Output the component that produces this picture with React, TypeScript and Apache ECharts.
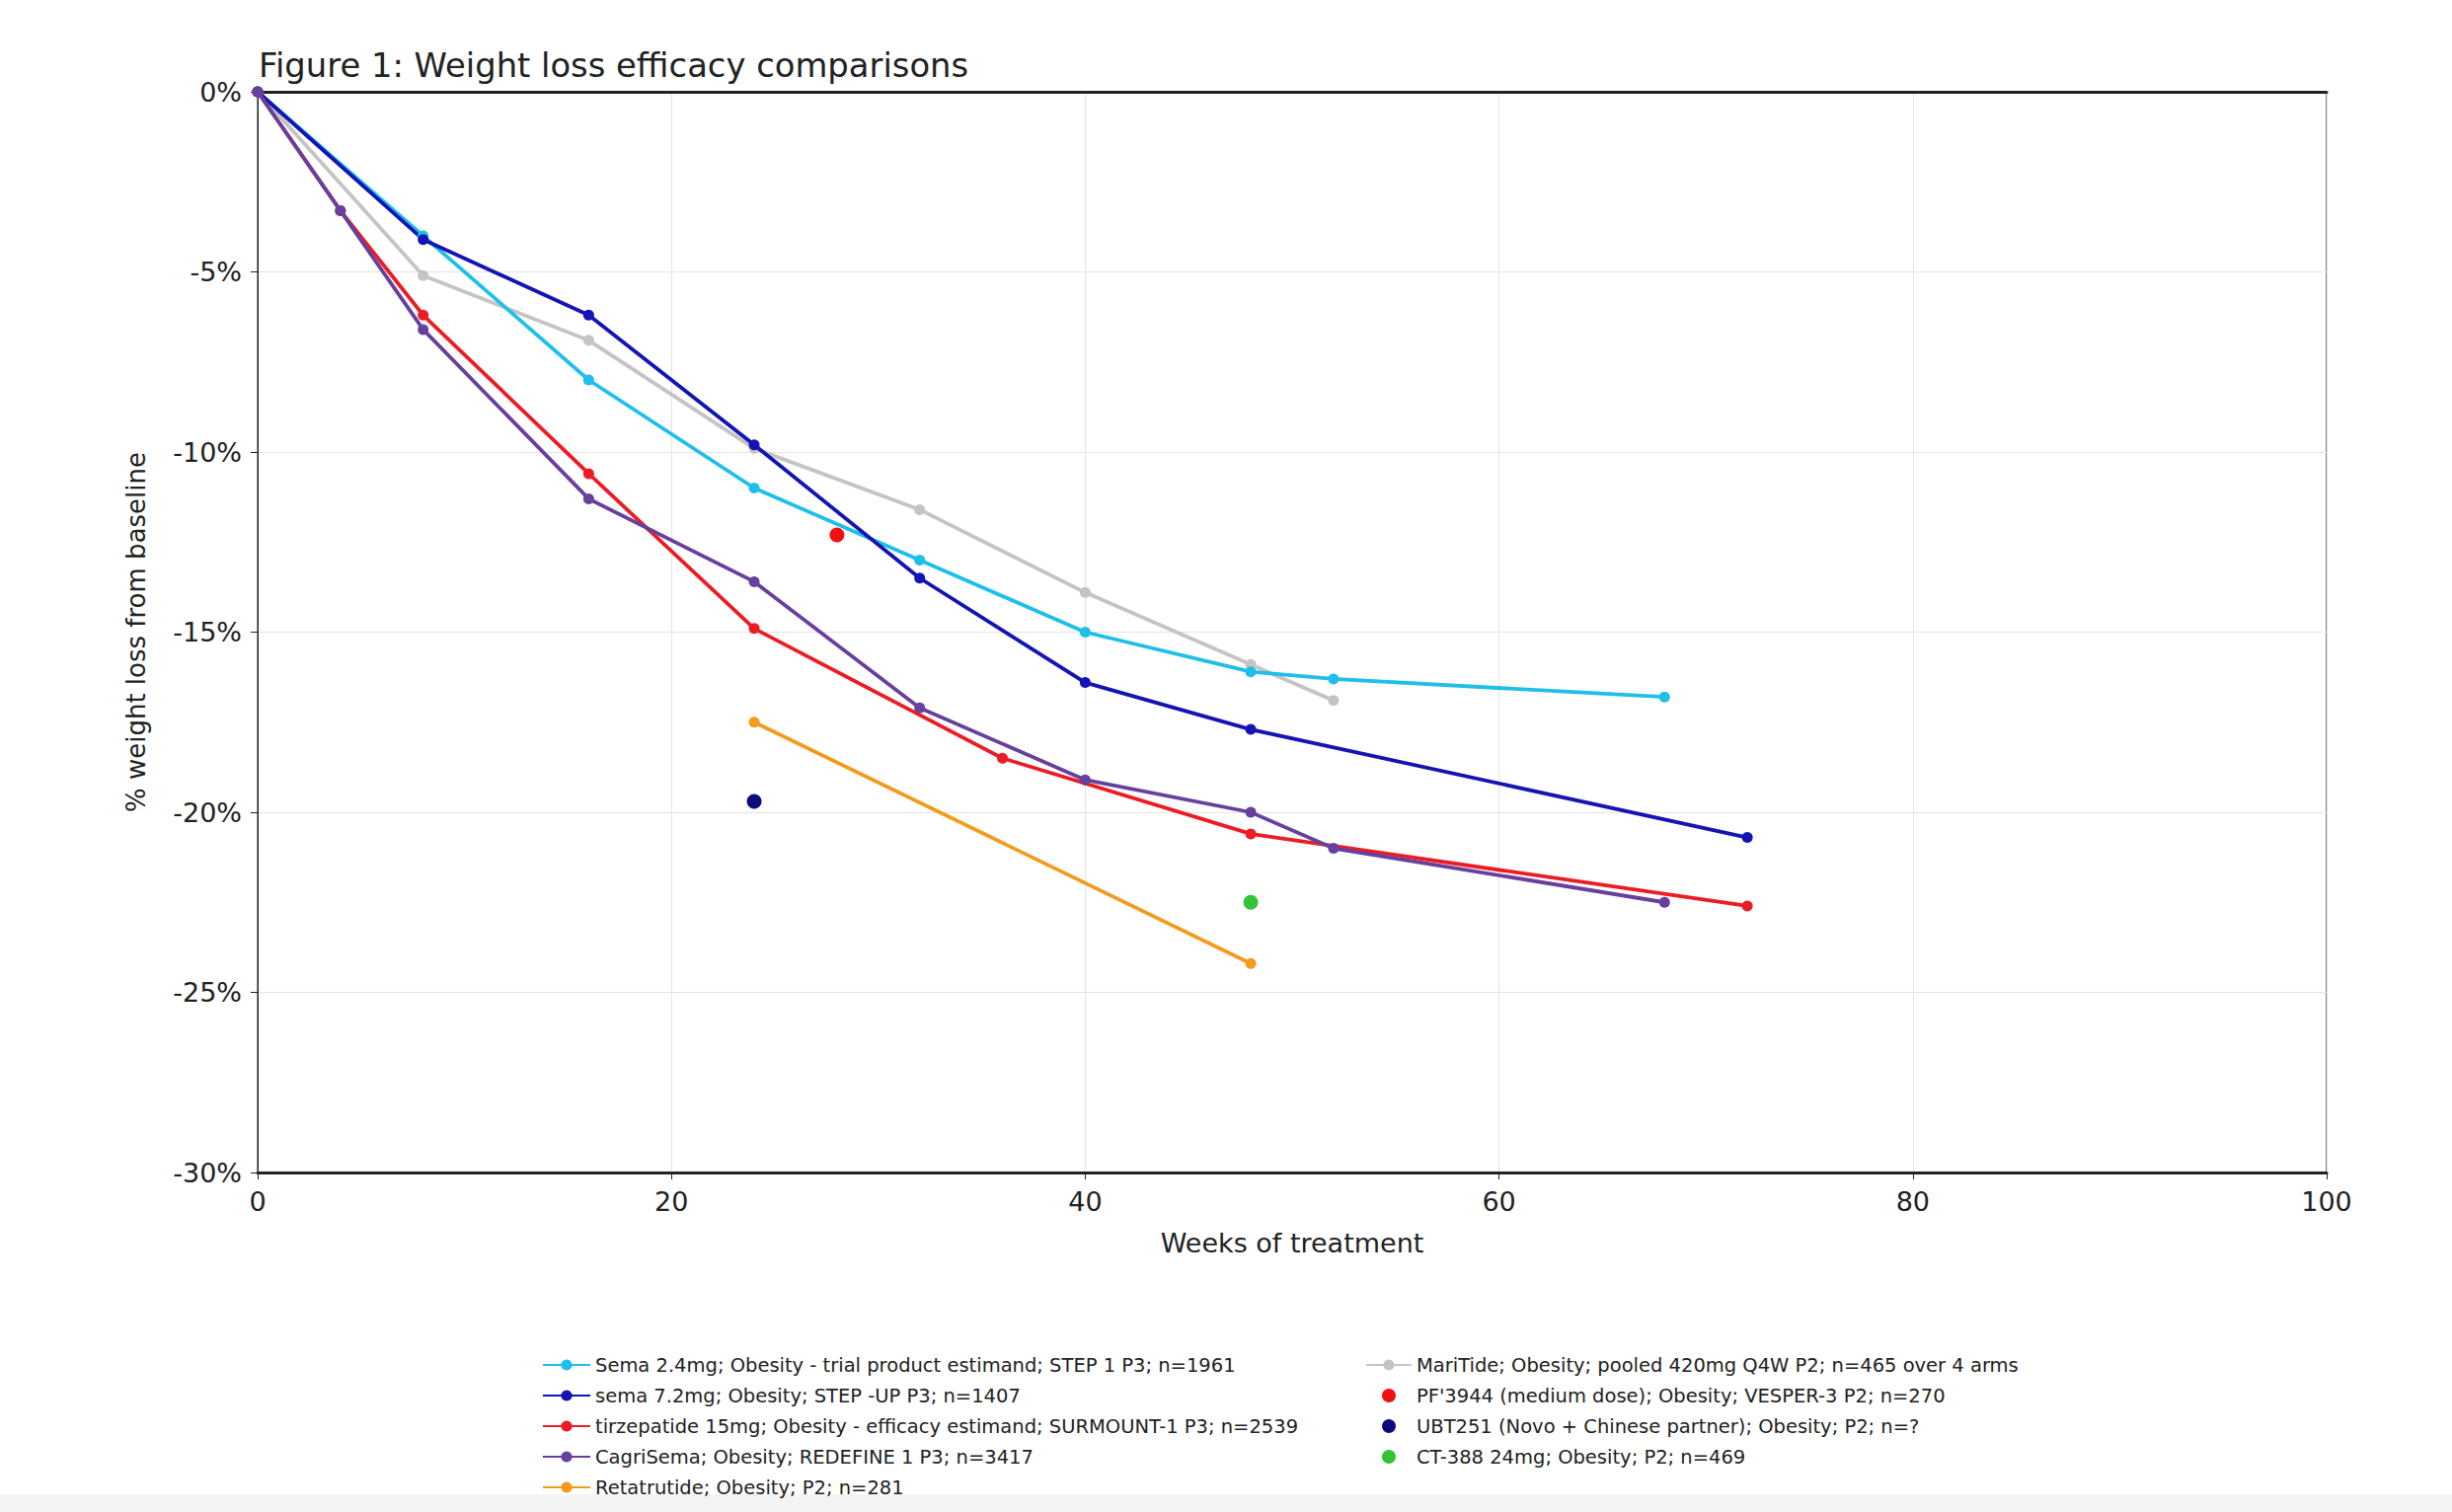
import React, { useEffect, useRef } from "react";
import * as echarts from "echarts";

const titleText = "Figure 1: Weight loss efficacy comparisons";
const xAxisName = "Weeks of treatment";
const yAxisName = "% weight loss from baseline";

const sema24Name = "Sema 2.4mg; Obesity - trial product estimand; STEP 1 P3; n=1961";
const sema24Weeks = [0, 8, 16, 24, 32, 40, 48, 52, 68];
const sema24Loss = [0, -4.0, -8.0, -11.0, -13.0, -15.0, -16.1, -16.3, -16.8];

const sema72Name = "sema 7.2mg; Obesity; STEP -UP P3; n=1407";
const sema72Weeks = [0, 8, 16, 24, 32, 40, 48, 72];
const sema72Loss = [0, -4.1, -6.2, -9.8, -13.5, -16.4, -17.7, -20.7];

const tirzName = "tirzepatide 15mg; Obesity - efficacy estimand; SURMOUNT-1 P3; n=2539";
const tirzWeeks = [0, 4, 8, 16, 24, 36, 48, 72];
const tirzLoss = [0, -3.3, -6.2, -10.6, -14.9, -18.5, -20.6, -22.6];

const cagriName = "CagriSema; Obesity; REDEFINE 1 P3; n=3417";
const cagriWeeks = [0, 4, 8, 16, 24, 32, 40, 48, 52, 68];
const cagriLoss = [0, -3.3, -6.6, -11.3, -13.6, -17.1, -19.1, -20.0, -21.0, -22.5];

const retaName = "Retatrutide; Obesity; P2; n=281";
const retaWeeks = [24, 48];
const retaLoss = [-17.5, -24.2];

const mariName = "MariTide; Obesity; pooled 420mg Q4W P2; n=465 over 4 arms";
const mariWeeks = [0, 8, 16, 24, 32, 40, 48, 52];
const mariLoss = [0, -5.1, -6.9, -9.9, -11.6, -13.9, -15.9, -16.9];

const pfName = "PF'3944 (medium dose); Obesity; VESPER-3 P2; n=270";
const pfWeeks = [28];
const pfLoss = [-12.3];

const ubtName = "UBT251 (Novo + Chinese partner); Obesity; P2; n=?";
const ubtWeeks = [24];
const ubtLoss = [-19.7];

const ctName = "CT-388 24mg; Obesity; P2; n=469";
const ctWeeks = [48];
const ctLoss = [-22.5];

const pairs = (w: number[], v: number[]) => w.map((x, i) => [x, v[i]]);

const FONT = "'DejaVu Sans', sans-serif";

export default function App() {
  const ref = useRef<HTMLDivElement>(null);
  useEffect(() => {
    if (!ref.current) return;
    const chart = echarts.init(ref.current, undefined, { renderer: "svg" });

    const lineSeries = (name: string, w: number[], v: number[], color: string, z: number) => ({
      name,
      type: "line",
      data: pairs(w, v),
      z,
      symbol: "circle",
      symbolSize: 11,
      showSymbol: true,
      lineStyle: { color, width: 3.8 },
      itemStyle: { color },
    });
    const dotSeries = (name: string, w: number[], v: number[], color: string) => ({
      name,
      type: "scatter",
      data: pairs(w, v),
      symbol: "circle",
      symbolSize: 15,
      itemStyle: { color, opacity: 1 },
      z: 5,
    });

    const legendText = { fontFamily: FONT, fontSize: 19.5, color: "#222", lineHeight: 20 };

    chart.setOption({
      animation: false,
      backgroundColor: "#ffffff",
      textStyle: { fontFamily: FONT },
      title: {
        text: titleText,
        left: 257,
        top: 44,
        textStyle: { fontFamily: FONT, fontSize: 33.8, fontWeight: "normal", color: "#222" },
      },
      grid: {
        left: 261,
        right: 127,
        top: 93,
        bottom: 344,
        show: true,
        borderColor: "#111",
        borderWidth: 1,
        containLabel: false,
      },
      legend: [
        {
          orient: "vertical",
          left: 544,
          top: 1368,
          height: 170,
          itemWidth: 48,
          itemHeight: 14,
          itemGap: 11,
          itemTextGap: 18,
          textStyle: legendText,
          data: [sema24Name, sema72Name, tirzName, cagriName, retaName],
        },
        {
          orient: "vertical",
          left: 1378,
          top: 1368,
          height: 170,
          itemWidth: 46,
          itemHeight: 14,
          itemGap: 11,
          itemTextGap: 22,
          textStyle: legendText,
          data: [mariName, pfName, ubtName, ctName],
        },
      ],
      graphic: [
        {
          type: "rect",
          left: 0,
          top: 1514,
          shape: { width: 2484, height: 18 },
          style: { fill: "#f4f4f4" },
          silent: true,
          z: -10,
        },
      ],
      xAxis: [
        {
          type: "value",
          min: 0,
          max: 100,
          interval: 20,
          name: xAxisName,
          nameLocation: "middle",
          nameGap: 58,
          nameTextStyle: { fontFamily: FONT, fontSize: 27, color: "#222" },
          axisLine: { show: true, onZero: false, lineStyle: { color: "#222", width: 3 } },
          axisTick: { show: true, length: 7, lineStyle: { color: "#222", width: 1 } },
          axisLabel: { fontFamily: FONT, fontSize: 27, color: "#222", margin: 16 },
          splitLine: { show: true, lineStyle: { color: "#e4e4e4", width: 1 } },
        },
        {
          type: "value",
          position: "top",
          min: 0,
          max: 100,
          interval: 20,
          axisLine: { show: true, onZero: false, lineStyle: { color: "#222", width: 3 } },
          axisTick: { show: false },
          axisLabel: { show: false },
          splitLine: { show: false },
        },
      ],
      yAxis: {
        type: "value",
        min: -30,
        max: 0,
        interval: 5,
        name: yAxisName,
        nameLocation: "middle",
        nameGap: 110,
        nameTextStyle: { fontFamily: FONT, fontSize: 26, color: "#222" },
        axisLine: { show: true, onZero: false, lineStyle: { color: "#222", width: 1 } },
        axisTick: { show: true, length: 7, lineStyle: { color: "#222", width: 1 } },
        axisLabel: {
          fontFamily: FONT,
          fontSize: 27,
          color: "#222",
          margin: 16,
          formatter: (v: number) => `${v}%`,
        },
        splitLine: { show: true, lineStyle: { color: "#e4e4e4", width: 1 } },
      },
      series: [
        lineSeries(sema24Name, sema24Weeks, sema24Loss, "#1fbfea", 3),
        lineSeries(sema72Name, sema72Weeks, sema72Loss, "#1414b4", 3),
        lineSeries(tirzName, tirzWeeks, tirzLoss, "#ec1c24", 3),
        lineSeries(cagriName, cagriWeeks, cagriLoss, "#67409e", 3),
        lineSeries(retaName, retaWeeks, retaLoss, "#f29b1d", 3),
        lineSeries(mariName, mariWeeks, mariLoss, "#c4c4c4", 2),
        dotSeries(pfName, pfWeeks, pfLoss, "#f01010"),
        dotSeries(ubtName, ubtWeeks, ubtLoss, "#0b0b7c"),
        dotSeries(ctName, ctWeeks, ctLoss, "#33c433"),
      ],
    });
    return () => chart.dispose();
  }, []);
  return (
    <div
      ref={ref}
      style={{ position: "absolute", left: 0, top: 0, width: 2484, height: 1532 }}
    />
  );
}
